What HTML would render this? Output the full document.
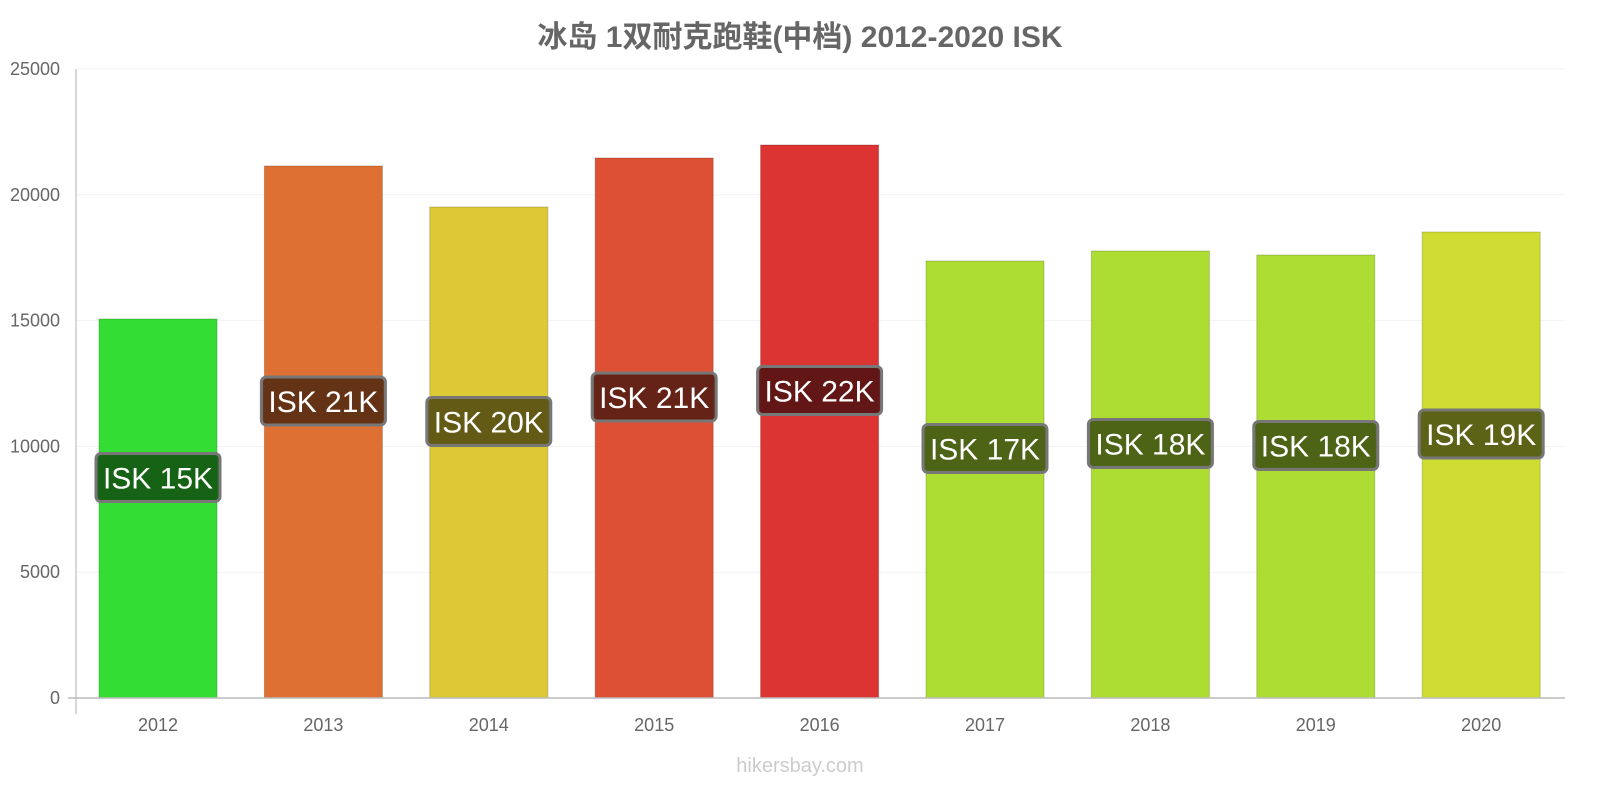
<!DOCTYPE html>
<html><head><meta charset="utf-8"><style>
body{margin:0;background:#fff;}
svg text{font-family:"Liberation Sans","Noto Sans CJK SC",sans-serif;}
</style></head><body>
<svg width="1600" height="800" xmlns="http://www.w3.org/2000/svg">
<text x="800" y="47" text-anchor="middle" font-size="30" font-weight="bold" fill="#666">冰岛 1双耐克跑鞋(中档) 2012-2020 ISK</text>
<g id="grid"></g><g id="bars"></g>
<line x1="76" y1="69" x2="76" y2="714" stroke="#ccc" stroke-width="1.5"/>
<line x1="68" y1="698" x2="1565" y2="698" stroke="#bbb" stroke-width="1.5"/>
<text x="800" y="772" text-anchor="middle" font-size="20" fill="#ccc">hikersbay.com</text>
</svg>
<script>
const years=["2012","2013","2014","2015","2016","2017","2018","2019","2020"];
const values=[15064,21145,19515,21463,21979,17369,17766,17607,18521];
const labels=["ISK 15K","ISK 21K","ISK 20K","ISK 21K","ISK 22K","ISK 17K","ISK 18K","ISK 18K","ISK 19K"];
const ticks=[0,5000,10000,15000,20000,25000];
const colors=["#33dd33","#de7033","#dcc933","#de5033","#dc3333","#addd33","#addd33","#addd33","#cfdd33"];
const NS="http://www.w3.org/2000/svg";
const y=v=>698-v*629/25000;
const x=i=>158+i*165.4;
function mk(t,a,p){const e=document.createElementNS(NS,t);for(const k in a)e.setAttribute(k,a[k]);p.appendChild(e);return e;}
const g=document.getElementById('grid'),b=document.getElementById('bars');
ticks.forEach(t=>{
 if(t>0){const l=mk('line',{x1:76,x2:1565,y1:y(t),y2:y(t),stroke:'#f3f3f3'},g);
 
 }
 const tx=mk('text',{x:60,y:y(t)+6,'text-anchor':'end','font-size':18,fill:'#666'},g);tx.textContent=t;
 
 
});
function dark(h){const n=parseInt(h.slice(1),16);const r=(n>>16)*0.42|0,gg=((n>>8)&255)*0.42|0,bb=(n&255)*0.42|0;return `rgb(${r},${gg},${bb})`;}
values.forEach((v,i)=>{
 const r=mk('rect',{x:x(i)-59,y:y(v),width:118,height:698-y(v),fill:colors[i],stroke:dark(colors[i]),'stroke-opacity':0.3},b);
 
 
 const cy=(y(v)+698)/2-31;
 const lb=mk('rect',{x:x(i)-62,y:cy-24,width:124,height:48,rx:5,fill:dark(colors[i]),stroke:'#777','stroke-width':3,'fill-opacity':0.95},b);
 
 
 const t=mk('text',{x:x(i),y:cy+11,'text-anchor':'middle','font-size':30,fill:'#fff'},b);t.textContent=labels[i];
 
 
 const xl=mk('text',{x:x(i),y:731,'text-anchor':'middle','font-size':18,fill:'#666'},b);xl.textContent=years[i];
 
 
});
</script>
</body></html>
